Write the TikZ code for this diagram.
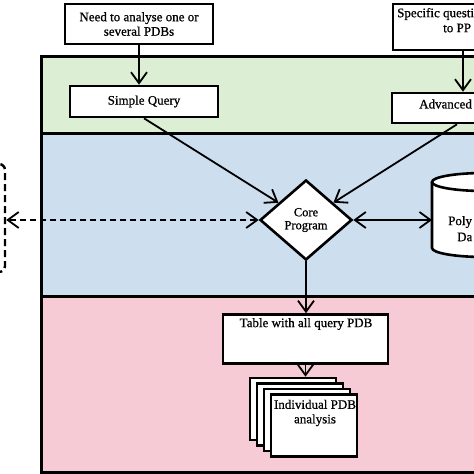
\documentclass[tikz,border=0pt]{standalone}
\usepackage{fontspec}
\setmainfont[FakeBold=0.8]{Liberation Serif}
\usetikzlibrary{arrows.meta,shapes.geometric,calc}
\definecolor{bandgreen}{RGB}{220,238,212}
\definecolor{bandblue}{RGB}{205,222,239}
\definecolor{bandpink}{RGB}{246,203,213}
\begin{document}
\begin{tikzpicture}[x=1pt,y=-1pt,
  box/.style={draw,line width=2.6pt,fill=white,inner sep=0pt,font=\fontsize{13}{14.5}\selectfont,align=center},
  txt/.style={font=\fontsize{13}{14.5}\selectfont,align=center,inner sep=0pt},
  bandline/.style={line width=3pt},
  arr/.style={line width=1.8pt,-{Straight Barb[length=11pt,width=16pt,line width=1.8pt]}},
  arrboth/.style={line width=1.8pt,{Straight Barb[length=11pt,width=16pt,line width=1.8pt]}-{Straight Barb[length=11pt,width=16pt,line width=1.8pt]}},
  dasharr/.style={line width=2pt,dash pattern=on 6pt off 4pt,{Straight Barb[length=11pt,width=16pt,line width=1.8pt]}-{Straight Barb[length=11pt,width=16pt,line width=1.8pt]}}]
\useasboundingbox (0,0) rectangle (474,474);
\clip (0,0) rectangle (474,474);
% bands
\fill[bandgreen] (41,56) rectangle (490,133);
\fill[bandblue] (41,133) rectangle (490,296);
\fill[bandpink] (41,296) rectangle (490,472);
\draw[bandline] (490,56) -- (41,56) -- (41,472) -- (490,472);
\draw[bandline] (41,133) -- (490,133);
\draw[bandline] (41,296) -- (490,296);
% top boxes
\node[box, minimum width=148pt, minimum height=40pt] (need) at (139,24) {Need to analyse one or\\several PDBs};
\node[box, minimum width=140pt, minimum height=46pt] (spec) at (463,27) {};
\node[txt, anchor=west] (spec1) at (397,14) {Specific questi};
\node[txt, anchor=west] (spec2) at (443,28) {to PP};
% query boxes
\node[box, minimum width=148pt, minimum height=31pt] (simple) at (144,101.5) {Simple Query};
\node[box, minimum width=130pt, minimum height=30pt] (adv) at (457,108) {};
\node[txt, anchor=west] (advtxt) at (419,104) {Advanced};
% core
\node[draw, diamond, line width=2.6pt, fill=white, minimum width=92pt, minimum height=80pt, inner sep=0pt, font=\fontsize{12.5}{13}\selectfont, align=center] (core) at (306,220) {Core\\Program};
% database cylinder
\coordinate (dbl) at (432,220);
\draw[line width=2.6pt, fill=white] (432,182) -- (432,248) arc[start angle=180,end angle=360,x radius=52pt,y radius=9pt] -- (536,182);
\draw[line width=2.6pt, fill=white] (484,182) ellipse [x radius=52pt, y radius=9pt];
\node[txt, anchor=west] (db1) at (448,222) {Poly};
\node[txt, anchor=west] (db2) at (457,237) {Da};
% external dashed box
\node[draw, line width=2.4pt, dash pattern=on 7pt off 4pt, rounded corners=6pt, minimum width=50pt, minimum height=108pt] (ext) at (-20,218) {};
% table
\node[box, minimum width=165pt, minimum height=49pt] (table) at (305.5,339) {};
\node[txt] (tabletxt) at (306,324) {Table with all query PDB};
% stack of pages
\node[box, minimum width=86pt, minimum height=62pt] (p1) at (293,409) {};
\node[box, minimum width=86pt, minimum height=62pt] (p2) at (300,414.5) {};
\node[box, minimum width=86pt, minimum height=62pt] (p3) at (307,420) {};
\node[box, minimum width=86pt, minimum height=62pt] (p4) at (314,425.5) {};
\node[txt] (p4txt) at (315,413) {Individual PDB\\analysis};
% connectors
\draw[arr] (need.south) -- (need.south |- simple.north);
\draw[arr] (spec.south) -- (spec.south |- adv.north);
\draw[arr] (simple.south) -- (core);
\draw[arr] (adv.south) -- (core);
\draw[arrboth] (core.east) -- (dbl);
\draw[dasharr] (core.west) -- (core.west -| ext.east);
\draw[arr] (core.south) -- (core.south |- table.north);
\draw[arr] (table.south) -- (table.south |- p1.north);
\end{tikzpicture}
\end{document}
